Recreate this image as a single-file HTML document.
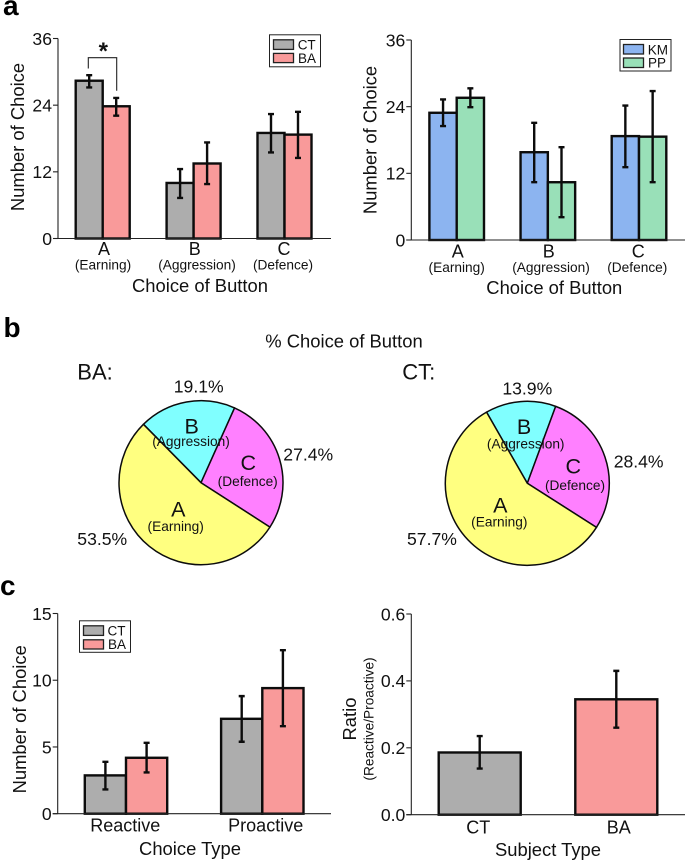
<!DOCTYPE html>
<html lang="en">
<head>
<meta charset="utf-8">
<title>Choice of Button Charts</title>
<style>
html,body{margin:0;padding:0;background:#fff;}
svg{display:block;}
text{font-family:"Liberation Sans",Arial,sans-serif;fill:#111;}
.t{font-size:18.4px;}
.tick{font-size:17.6px;text-anchor:end;}
.cat{font-size:18px;text-anchor:middle;}
.sub{font-size:13.7px;text-anchor:middle;}
.m{text-anchor:middle;}
.leg{font-size:13.5px;}
.big{font-size:21.5px;text-anchor:middle;}
.pct{font-size:17.6px;}
.panel{font-size:28px;font-weight:bold;fill:#000;}
</style>
</head>
<body>
<svg id="root" xmlns="http://www.w3.org/2000/svg" width="685" height="860" viewBox="0 0 685 860">
<text class="panel" x="3" y="15">a</text>
<text class="panel" x="3.5" y="337">b</text>
<text class="panel" x="0" y="595">c</text>

<g id="chartA1"></g>
<g id="chartA2"></g>
<g id="chartC1"></g>
<g id="chartC2"></g>
<g id="pieBA"></g>
<g id="pieCT"></g>

<!-- Panel a left labels -->
<text class="t m" transform="translate(24,137) rotate(-90)">Number of Choice</text>
<text class="cat" x="104" y="255">A</text>
<text class="sub" x="103" y="269.5">(Earning)</text>
<text class="cat" x="194.7" y="255">B</text>
<text class="sub" x="197" y="269.5">(Aggression)</text>
<text class="cat" x="284" y="255">C</text>
<text class="sub" x="283" y="269.5">(Defence)</text>
<text class="t m" x="200" y="292">Choice of Button</text>
<path d="M88.3 68.5V57.7H116.7V90.7" fill="none" stroke="#222" stroke-width="1.1"/>
<text class="m" x="103.3" y="59" style="font-size:24px;font-weight:bold">*</text>
<g>
<rect x="269.5" y="34.8" width="51" height="32" fill="#fff" stroke="#222" stroke-width="1"/>
<rect x="273.5" y="39.8" width="20" height="9.6" fill="#adadad" stroke="#222" stroke-width="1.3"/>
<rect x="273.5" y="53.4" width="20" height="9.2" fill="#f99a9a" stroke="#222" stroke-width="1.3"/>
<text class="leg" x="297.7" y="49.5">CT</text>
<text class="leg" x="298" y="63">BA</text>
</g>

<!-- Panel a right labels -->
<text class="t m" transform="translate(376.7,140) rotate(-90)">Number of Choice</text>
<text class="cat" x="457.7" y="257.5">A</text>
<text class="sub" x="456.7" y="272">(Earning)</text>
<text class="cat" x="548.7" y="257.5">B</text>
<text class="sub" x="551" y="272">(Aggression)</text>
<text class="cat" x="638.3" y="257.5">C</text>
<text class="sub" x="637.3" y="272">(Defence)</text>
<text class="t m" x="554.3" y="294">Choice of Button</text>
<g>
<rect x="620" y="39.5" width="51" height="31.5" fill="#fff" stroke="#222" stroke-width="1"/>
<rect x="623.5" y="44.5" width="20" height="9.5" fill="#8cb4f0" stroke="#222" stroke-width="1.3"/>
<rect x="623.5" y="58" width="20" height="9.5" fill="#99e0b8" stroke="#222" stroke-width="1.3"/>
<text class="leg" x="647.7" y="54.5">KM</text>
<text class="leg" x="648" y="67.5">PP</text>
</g>

<!-- Panel b labels -->
<text class="t m" x="344" y="347.5">% Choice of Button</text>
<text x="77.3" y="379.3" style="font-size:22px">BA:</text>
<text x="402.3" y="379.3" style="font-size:22px">CT:</text>

<text class="pct m" id="baLabel1" x="198.7" y="392.3">19.1%</text>
<text class="pct" id="baLabel2" x="283.3" y="460.7">27.4%</text>
<text class="pct" id="baLabel0" x="77.3" y="545">53.5%</text>
<text class="big" x="191.7" y="433.3">B</text>
<text class="sub" x="191" y="446">(Aggression)</text>
<text class="big" x="248.3" y="470">C</text>
<text class="sub" x="247.7" y="486">(Defence)</text>
<text class="big" x="178.3" y="516.7">A</text>
<text class="sub" x="175.7" y="531">(Earning)</text>

<text class="pct m" id="ctLabel1" x="527.3" y="394.3">13.9%</text>
<text class="pct" id="ctLabel2" x="613.7" y="467.3">28.4%</text>
<text class="pct" id="ctLabel0" x="407" y="545">57.7%</text>
<text class="big" x="524" y="434">B</text>
<text class="sub" x="525.7" y="448.3">(Aggression)</text>
<text class="big" x="573.3" y="473.3">C</text>
<text class="sub" x="575" y="490">(Defence)</text>
<text class="big" x="500.3" y="512.3">A</text>
<text class="sub" x="499.3" y="526.7">(Earning)</text>

<!-- Panel c left labels -->
<text class="t m" transform="translate(26,719.3) rotate(-90)">Number of Choice</text>
<text class="cat" x="125.3" y="831.7">Reactive</text>
<text class="cat" x="265.7" y="831.7">Proactive</text>
<text class="t m" x="190" y="855">Choice Type</text>
<g>
<rect x="79.5" y="620.8" width="51" height="31.5" fill="#fff" stroke="#222" stroke-width="1"/>
<rect x="83.5" y="625.8" width="20" height="9.6" fill="#adadad" stroke="#222" stroke-width="1.3"/>
<rect x="83.5" y="639.8" width="20" height="9.2" fill="#f99a9a" stroke="#222" stroke-width="1.3"/>
<text class="leg" x="107.5" y="635.5">CT</text>
<text class="leg" x="108" y="649">BA</text>
</g>

<!-- Panel c right labels -->
<text class="m" transform="translate(356,719) rotate(-90)" style="font-size:18.4px">Ratio</text>
<text class="sub" transform="translate(373.7,719) rotate(-90)">(Reactive/Proactive)</text>
<text class="cat" x="478.3" y="833.3">CT</text>
<text class="cat" x="618.7" y="833.3">BA</text>
<text class="t m" x="548" y="856">Subject Type</text>
</svg>

<script>
// Panel a left: choices per group, CT vs BA
const aLeftCategories = ['a', 'b', 'c'];
const aLeftCT = [28.4, 10.0, 19.0];
const aLeftCTHigh = [29.4, 12.5, 22.4];
const aLeftCTLow = [27.2, 7.3, 15.5];
const aLeftBA = [23.8, 13.5, 18.7];
const aLeftBAHigh = [25.3, 17.3, 22.8];
const aLeftBALow = [22.1, 9.8, 14.5];
const aLeftTicks = [0, 12, 24, 36];
const aLeftTickLabels = ['0', '12', '24', '36'];

// Panel a right: choices per group, KM vs PP
const aRightCategories = ['a', 'b', 'c'];
const aRightKM = [22.9, 15.8, 18.7];
const aRightKMHigh = [25.3, 21.1, 24.2];
const aRightKMLow = [20.5, 10.4, 13.1];
const aRightPP = [25.6, 10.4, 18.6];
const aRightPPHigh = [27.3, 16.7, 26.8];
const aRightPPLow = [23.9, 4.1, 10.4];
const aRightTicks = [0, 12, 24, 36];
const aRightTickLabels = ['0', '12', '24', '36'];

// Panel b: percentage of choice (A, B, C)
const pieCategories = ['a', 'b', 'c'];
const pieBAValues = [53.5, 19.1, 27.4];
const pieCTValues = [57.7, 13.9, 28.4];

// Panel c left: choice type
const cLeftCategories = ['reactive', 'proactive'];
const cLeftCT = [2.87, 7.11];
const cLeftCTHigh = [3.89, 8.81];
const cLeftCTLow = [1.82, 5.39];
const cLeftBA = [4.19, 9.41];
const cLeftBAHigh = [5.31, 12.25];
const cLeftBALow = [3.09, 6.56];
const cLeftTicks = [0, 5, 10, 15];
const cLeftTickLabels = ['0', '5', '10', '15'];

// Panel c right: ratio
const cRightCategories = ['ct', 'ba'];
const cRightRatio = [0.186, 0.345];
const cRightRatioHigh = [0.235, 0.43];
const cRightRatioLow = [0.138, 0.26];
const cRightTicks = [0, 0.2, 0.4, 0.6];
const cRightTickLabels = ['0.0', '0.2', '0.4', '0.6'];

const NS = 'http://www.w3.org/2000/svg';
const INK = '#0c0c0c';

function make(tag, attrs, parent) {
  const el = document.createElementNS(NS, tag);
  for (const k in attrs) el.setAttribute(k, attrs[k]);
  parent.appendChild(el);
  return el;
}

function drawBars(o) {
  const g = document.getElementById(o.id);
  const yScale = v => o.y0 - (v / o.yMax) * (o.y0 - o.yTop);
  const xScale = i => o.groupStart + i * o.groupStep;

  o.series.forEach((s, si) => {
    const colorFor = i => (s.colors ? s.colors[i] : s.color);
    s.values.forEach((v, i) => {
      const left = xScale(i) + (si - o.series.length / 2) * o.barWidth;
      const bar = make('rect', {
        x: left, y: yScale(v), width: o.barWidth, height: o.y0 - yScale(v),
        fill: colorFor(i), stroke: INK, 'stroke-width': 2.4
      }, g);
      
      
    });
  });

  o.series.forEach((s, si) => {
    s.values.forEach((v, i) => {
      const mid = xScale(i) + (si - o.series.length / 2 + 0.5) * o.barWidth;
      const top = yScale(s.high[i]);
      const bottom = yScale(s.low[i]);
      const err = make('path', {
        d: 'M' + (mid - 3) + ' ' + top + 'H' + (mid + 3) + 'M' + mid + ' ' + top + 'V' + bottom + 'M' + (mid - 3) + ' ' + bottom + 'H' + (mid + 3),
        fill: 'none', stroke: INK, 'stroke-width': 2.4
      }, g);
      
      
    });
  });

  const yAxis = make('line', { x1: o.axisX, x2: o.axisX, y1: o.yTop, y2: o.y0, stroke: '#222', 'stroke-width': 1.1 }, g);
  
  

  const xAxis = make('line', { x1: o.axisX - 5, x2: o.xEnd, y1: o.y0, y2: o.y0, stroke: '#222', 'stroke-width': 1.1 }, g);
  
  

  o.ticks.forEach((t, i) => {
    const tick = make('line', { x1: o.axisX - 5, x2: o.axisX, y1: yScale(t), y2: yScale(t), stroke: '#222', 'stroke-width': 1.1 }, g);
    
    
    const label = make('text', { class: 'tick', x: o.axisX - 6, y: yScale(t) + 6.3 }, g);
    
    
    label.textContent = o.tickLabels[i];
  });
}

function drawPie(id, values, startAngle, cx, cy, r, labelPrefix) {
  const g = document.getElementById(id);
  const colors = ['#ffff80', '#80ffff', '#ff80ff'];
  const total = values.reduce((a, b) => a + b, 0);
  const point = deg => {
    const rad = deg * Math.PI / 180;
    return [cx + r * Math.sin(rad), cy - r * Math.cos(rad)];
  };
  // Slices run clockwise: B, C, then A, with the B slice starting at startAngle.
  let angle = startAngle;
  [1, 2, 0].forEach(idx => {
    const sweep = values[idx] / total * 360;
    const a = point(angle);
    const b = point(angle + sweep);
    const slice = make('path', {
      d: 'M' + cx + ' ' + cy + 'L' + a[0] + ' ' + a[1] + 'A' + r + ' ' + r + ' 0 ' + (sweep > 180 ? 1 : 0) + ' 1 ' + b[0] + ' ' + b[1] + 'Z',
      fill: colors[idx], stroke: INK, 'stroke-width': 1.5, 'stroke-linejoin': 'round'
    }, g);
    
    
    document.getElementById(labelPrefix + idx).textContent = values[idx].toFixed(1) + '%';
    angle += sweep;
  });
}

const gray = '#adadad', pink = '#f99a9a', blue = '#8cb4f0', green = '#99e0b8';

drawBars({
  id: 'chartA1', categories: aLeftCategories, axisX: 58, yTop: 38.5, y0: 238.5, xEnd: 331, yMax: 36,
  groupStart: 102.7, groupStep: 90.9, barWidth: 27,
  ticks: aLeftTicks, tickLabels: aLeftTickLabels,
  series: [
    { name: 'ct', color: gray, values: aLeftCT, high: aLeftCTHigh, low: aLeftCTLow },
    { name: 'ba', color: pink, values: aLeftBA, high: aLeftBAHigh, low: aLeftBALow }
  ]
});

drawBars({
  id: 'chartA2', categories: aRightCategories, axisX: 411.3, yTop: 40, y0: 240, xEnd: 685, yMax: 36,
  groupStart: 456.7, groupStep: 91.15, barWidth: 27.3,
  ticks: aRightTicks, tickLabels: aRightTickLabels,
  series: [
    { name: 'km', color: blue, values: aRightKM, high: aRightKMHigh, low: aRightKMLow },
    { name: 'pp', color: green, values: aRightPP, high: aRightPPHigh, low: aRightPPLow }
  ]
});

drawBars({
  id: 'chartC1', categories: cLeftCategories, axisX: 57.7, yTop: 613.5, y0: 813.7, xEnd: 331, yMax: 15,
  groupStart: 126, groupStep: 136.3, barWidth: 41.2,
  ticks: cLeftTicks, tickLabels: cLeftTickLabels,
  series: [
    { name: 'ct', color: gray, values: cLeftCT, high: cLeftCTHigh, low: cLeftCTLow },
    { name: 'ba', color: pink, values: cLeftBA, high: cLeftBAHigh, low: cLeftBALow }
  ]
});

drawBars({
  id: 'chartC2', categories: cRightCategories, axisX: 411.3, yTop: 614, y0: 814.7, xEnd: 685, yMax: 0.6,
  groupStart: 479.7, groupStep: 136.6, barWidth: 82,
  ticks: cRightTicks, tickLabels: cRightTickLabels,
  series: [
    { name: 'ratio', colors: [gray, pink], values: cRightRatio, high: cRightRatioHigh, low: cRightRatioLow }
  ]
});

drawPie('pieBA', pieBAValues, -44.6, 201, 482.7, 82, 'baLabel');
drawPie('pieCT', pieCTValues, -29.8, 527.3, 483.3, 82, 'ctLabel');

// Slice fills must sit beneath the pie labels.
const root = document.getElementById('root');
const firstPct = document.getElementById('baLabel1');
root.insertBefore(document.getElementById('pieBA'), firstPct);
root.insertBefore(document.getElementById('pieCT'), firstPct);
</script>
</body>
</html>
